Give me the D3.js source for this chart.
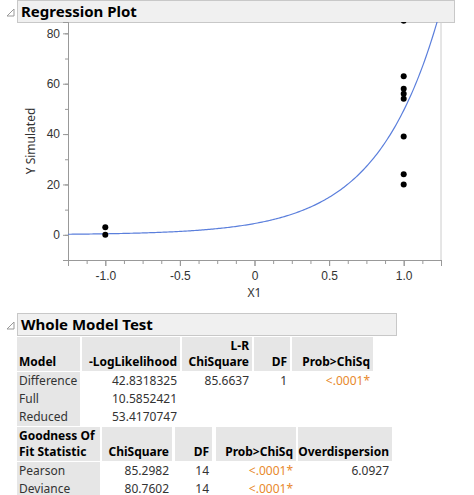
<!DOCTYPE html>
<html><head><meta charset="utf-8">
<script src="https://cdn.jsdelivr.net/npm/d3@7"></script>
<style>body{margin:0;background:#fff;font-family:"Noto Sans",sans-serif}</style>
</head><body><svg id="c" width="474" height="495"></svg>
<script>
const xTicks=[-1.0,-0.5,0,0.5,1.0];
const xTickLabels=["-1.0","-0.5","0","0.5","1.0"];
const yTicks=[0,20,40,60,80];
const ptsX=[-1,-1,1,1,1,1,1,1,1,1];
const ptsY=[3,0,85,63,58,56,54,39,24,20];
const fitA=1.5, fitB=2.4;
const t1Cols=["Model","-LogLikelihood","L-R\nChiSquare","DF","Prob>ChiSq"];
const t1Rows=[["Difference","42.8318325","85.6637","1","<.0001*"],["Full","10.5852421","","",""],["Reduced","53.4170747","","",""]];
const t2Cols=["Goodness Of\nFit Statistic","ChiSquare","DF","Prob>ChiSq","Overdispersion"];
const t2Rows=[["Pearson","85.2982","14","<.0001*","6.0927"],["Deviance","80.7602","14","<.0001*",""]];

const svg=d3.select("#c");
function header(y,w,text){
  svg.append("rect").attr("x",17.5).attr("y",y+0.5).attr("width",w).attr("height",22).attr("fill","#f0f0f0").attr("stroke","#c8c8c8");
  svg.append("path").attr("d",`M${7},${y+16} L${14},${y+9} L${14},${y+16}Z`).attr("fill","none").attr("stroke","#999");
  svg.append("text").attr("x",21).attr("y",y+17).attr("font-size",15).attr("font-weight","bold").attr("fill","#000").text(text);
}
header(0,437,"Regression Plot");
const L=68,R=441,T=22,B=260;
const x=d3.scaleLinear().domain([-1.25,1.25]).range([L,R]);
const y=d3.scaleLinear().domain([-10,84.5]).range([B,T]);
const g=svg.append("g");
g.append("clipPath").attr("id","cp").append("rect").attr("x",L).attr("y",T).attr("width",R-L).attr("height",B-T);
const ax=g.append("g").attr("transform",`translate(0,${B})`).call(d3.axisBottom(x).tickValues(d3.range(-1.25,1.2501,0.125)).tickSize(4).tickFormat(""));
ax.selectAll(".tick line").attr("stroke","#999").attr("y2",d=>Math.abs(d*4-Math.round(d*4))<1e-6&&Math.abs(d*2-Math.round(d*2))<1e-6?6:4);
const ax2=g.append("g").attr("transform",`translate(0,${B})`).call(d3.axisBottom(x).tickValues(xTicks).tickSize(6).tickFormat((d,i)=>xTickLabels[i]));
[ax,ax2].forEach(a=>{a.select(".domain").attr("stroke","#999");a.selectAll("line").attr("stroke","#999");});
ax2.selectAll("text").attr("font-size",12).attr("fill","#333").attr("dy","0.9em");
const ay=g.append("g").attr("transform",`translate(${L},0)`).call(d3.axisLeft(y).tickValues(d3.range(-10,85,10)).tickSize(3).tickFormat(""));
const ay2=g.append("g").attr("transform",`translate(${L},0)`).call(d3.axisLeft(y).tickValues(yTicks).tickSize(5));
[ay,ay2].forEach(a=>{a.select(".domain").attr("stroke","#999");a.selectAll("line").attr("stroke","#999");});
ay2.selectAll("text").attr("font-size",12).attr("fill","#333");
g.append("line").attr("x1",R).attr("x2",R).attr("y1",T).attr("y2",B).attr("stroke","#ccc");
svg.append("text").attr("transform",`translate(35,${(T+B)/2}) rotate(-90)`).attr("text-anchor","middle").attr("font-size",12).attr("fill","#333").text("Y Simulated");
svg.append("text").attr("x",(L+R)/2).attr("y",B+37).attr("text-anchor","middle").attr("font-size",12).attr("fill","#333").text("X1");
const cx=d3.range(-1.25,1.2501,0.01);
g.append("path").attr("clip-path","url(#cp)").attr("d",d3.line().x(d=>x(d)).y(d=>y(Math.exp(fitA+fitB*d)))(cx)).attr("fill","none").attr("stroke","#5b7fdc").attr("stroke-width",1.2);
g.append("g").attr("clip-path","url(#cp)").selectAll("circle").data(ptsX).join("circle").attr("cx",d=>x(d)).attr("cy",(d,i)=>y(ptsY[i])).attr("r",3).attr("fill","#000");

header(313,379,"Whole Model Test");
function table(top,cols,colX,rows){
  const hh=34, rh=18;
  cols.forEach((c,i)=>{
    svg.append("rect").attr("x",colX[i][0]).attr("y",top).attr("width",colX[i][1]-colX[i][0]).attr("height",hh).attr("fill","#e6e6e6");
    const lines=c.split("\n");
    const anchor=i==0?"start":"end", tx=i==0?colX[i][0]+2:colX[i][1]-3;
    lines.forEach((ln,k)=>svg.append("text").attr("x",tx).attr("y",top+hh-5-(lines.length-1-k)*16).attr("text-anchor",anchor).attr("font-size",12).attr("font-weight","bold").attr("fill","#000").text(ln));
  });
  svg.append("rect").attr("x",colX[0][0]).attr("y",top+hh+1).attr("width",colX[0][1]-colX[0][0]).attr("height",rows.length*rh).attr("fill","#e6e6e6");
  rows.forEach((r,j)=>r.forEach((v,i)=>{
    const anchor=i==0?"start":"end", tx=i==0?colX[i][0]+2:colX[i][1]-3;
    svg.append("text").attr("x",tx).attr("y",top+hh+14+j*rh).attr("text-anchor",anchor).attr("font-size",12).attr("fill",v.startsWith("<")?"#e8892c":"#333").text(v);
  }));
}
table(337,t1Cols,[[17,80],[82,180],[182,252],[254,290],[292,373]],t1Rows);
table(427,t2Cols,[[17,100],[102,172],[175,212],[216,296],[298,392]],t2Rows);
</script></body></html>
